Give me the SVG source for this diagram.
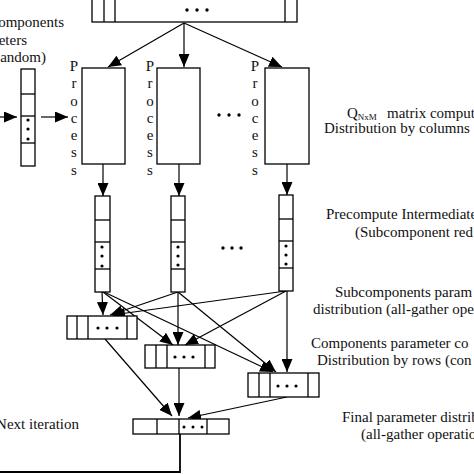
<svg xmlns="http://www.w3.org/2000/svg" width="474" height="474" viewBox="0 0 474 474">
<defs>
<marker id="ah" markerUnits="userSpaceOnUse" markerWidth="13" markerHeight="11" refX="13" refY="5.5" orient="auto">
<path d="M0,0 L13,5.5 L0,11 z" fill="#000"/>
</marker>
</defs>
<style>
.box{fill:#fff;stroke:#000;stroke-width:1.3}
.div{stroke:#000;stroke-width:1.3}
.dot{fill:#000}
.c{stroke:#000;stroke-width:1.2;fill:none}
.a{marker-end:url(#ah)}
text{font-family:"Liberation Serif","Times New Roman",serif;font-size:15px;fill:#111}
.p{font-size:15px;text-anchor:middle}
</style>
<rect width="474" height="474" fill="#fff"/>

<g id="connectors">
<line class="c a" x1="184" y1="23" x2="108" y2="67"/>
<line class="c a" x1="184" y1="23" x2="184" y2="67"/>
<line class="c a" x1="184" y1="23" x2="282" y2="67"/>
<line class="c a" x1="0" y1="117" x2="17" y2="117"/>
<line class="c a" x1="41" y1="117" x2="68" y2="117"/>
<line class="c a" x1="103" y1="164" x2="103" y2="196"/>
<line class="c a" x1="179" y1="164" x2="179" y2="196"/>
<line class="c a" x1="287" y1="164" x2="287" y2="195"/>
<line class="c a" x1="102" y1="292" x2="103" y2="315"/>
<line class="c a" x1="103" y1="292" x2="173" y2="345"/>
<line class="c a" x1="104" y1="292" x2="273" y2="372"/>
<line class="c a" x1="178" y1="292" x2="110" y2="315"/>
<line class="c a" x1="178" y1="292" x2="178" y2="345"/>
<line class="c a" x1="178" y1="292" x2="276" y2="372"/>
<line class="c a" x1="286" y1="291" x2="112" y2="315"/>
<line class="c a" x1="286" y1="291" x2="185" y2="345"/>
<line class="c a" x1="287" y1="291" x2="287" y2="372"/>
<line class="c a" x1="105" y1="339" x2="172" y2="416"/>
<line class="c a" x1="179" y1="368" x2="179" y2="416"/>
<line class="c a" x1="287" y1="397" x2="188" y2="418"/>
<polyline class="c" points="180,434 180,472 0,472" style="stroke-width:1.8"/>
</g>

<g id="top-vector">
<rect class="box" x="92" y="-5" width="205" height="27"/>
<line class="div" x1="104" y1="-5" x2="104" y2="22"/>
<line class="div" x1="115" y1="-5" x2="115" y2="22"/>
<line class="div" x1="285" y1="-5" x2="285" y2="22"/>
<circle class="dot" cx="187" cy="10" r="1.7"/>
<circle class="dot" cx="197" cy="10" r="1.7"/>
<circle class="dot" cx="207" cy="10" r="1.7"/>
</g>

<g id="left-vector">
<rect class="box" x="21" y="69" width="14" height="97"/>
<line class="div" x1="21" y1="94" x2="35" y2="94"/>
<line class="div" x1="21" y1="116" x2="35" y2="116"/>
<line class="div" x1="21" y1="143" x2="35" y2="143"/>
<circle class="dot" cx="28" cy="120" r="1.6"/>
<circle class="dot" cx="28" cy="129" r="1.6"/>
<circle class="dot" cx="28" cy="139" r="1.6"/>
</g>

<g id="left-label">
<text x="64" y="27" text-anchor="end">omponents</text>
<text x="27" y="45" text-anchor="end">eters</text>
<text x="46" y="62" text-anchor="end">andom)</text>
</g>

<g id="process1">
<rect class="box" x="82" y="68" width="43" height="96"/>
<text class="p" x="74" y="71">P</text><text class="p" x="74" y="88">r</text><text class="p" x="74" y="106">o</text><text class="p" x="74" y="123">c</text><text class="p" x="74" y="140">e</text><text class="p" x="74" y="157">s</text><text class="p" x="74" y="175">s</text>
</g>
<g id="process2">
<rect class="box" x="157" y="68" width="43" height="96"/>
<text class="p" x="150" y="71">P</text><text class="p" x="150" y="88">r</text><text class="p" x="150" y="106">o</text><text class="p" x="150" y="123">c</text><text class="p" x="150" y="140">e</text><text class="p" x="150" y="157">s</text><text class="p" x="150" y="175">s</text>
</g>
<g id="process3">
<rect class="box" x="265" y="68" width="44" height="96"/>
<text class="p" x="255" y="71">P</text><text class="p" x="255" y="88">r</text><text class="p" x="255" y="106">o</text><text class="p" x="255" y="123">c</text><text class="p" x="255" y="140">e</text><text class="p" x="255" y="157">s</text><text class="p" x="255" y="175">s</text>
</g>
<g id="process-dots">
<circle class="dot" cx="219" cy="115" r="1.7"/>
<circle class="dot" cx="229" cy="115" r="1.7"/>
<circle class="dot" cx="239" cy="115" r="1.7"/>
</g>

<g id="vector1">
<rect class="box" x="95" y="196" width="15" height="96"/>
<line class="div" x1="95" y1="220" x2="110" y2="220"/>
<line class="div" x1="95" y1="242" x2="110" y2="242"/>
<line class="div" x1="95" y1="269" x2="110" y2="269"/>
<circle class="dot" cx="102" cy="247" r="1.6"/><circle class="dot" cx="102" cy="256" r="1.6"/><circle class="dot" cx="102" cy="266" r="1.6"/>
</g>
<g id="vector2">
<rect class="box" x="171" y="196" width="14" height="96"/>
<line class="div" x1="171" y1="220" x2="185" y2="220"/>
<line class="div" x1="171" y1="242" x2="185" y2="242"/>
<line class="div" x1="171" y1="269" x2="185" y2="269"/>
<circle class="dot" cx="178" cy="247" r="1.6"/><circle class="dot" cx="178" cy="256" r="1.6"/><circle class="dot" cx="178" cy="265" r="1.6"/>
</g>
<g id="vector3">
<rect class="box" x="279" y="195" width="14" height="96"/>
<line class="div" x1="279" y1="219" x2="293" y2="219"/>
<line class="div" x1="279" y1="241" x2="293" y2="241"/>
<line class="div" x1="279" y1="268" x2="293" y2="268"/>
<circle class="dot" cx="286" cy="246" r="1.6"/><circle class="dot" cx="286" cy="255" r="1.6"/><circle class="dot" cx="286" cy="264" r="1.6"/>
</g>
<g id="vector-dots">
<circle class="dot" cx="223" cy="248" r="1.7"/>
<circle class="dot" cx="232" cy="248" r="1.7"/>
<circle class="dot" cx="241" cy="248" r="1.7"/>
</g>

<g id="row1">
<rect class="box" x="67" y="316" width="70" height="23"/>
<line class="div" x1="77" y1="316" x2="77" y2="339"/>
<line class="div" x1="88" y1="316" x2="88" y2="339"/>
<line class="div" x1="127" y1="316" x2="127" y2="339"/>
<circle class="dot" cx="98" cy="328" r="1.6"/><circle class="dot" cx="107" cy="328" r="1.6"/><circle class="dot" cx="117" cy="328" r="1.6"/>
</g>
<g id="row2">
<rect class="box" x="145" y="345" width="70" height="23"/>
<line class="div" x1="156" y1="345" x2="156" y2="368"/>
<line class="div" x1="167" y1="345" x2="167" y2="368"/>
<line class="div" x1="205" y1="345" x2="205" y2="368"/>
<circle class="dot" cx="175" cy="357" r="1.6"/><circle class="dot" cx="184" cy="357" r="1.6"/><circle class="dot" cx="193" cy="357" r="1.6"/>
</g>
<g id="row3">
<rect class="box" x="248" y="373" width="71" height="24"/>
<line class="div" x1="259" y1="373" x2="259" y2="397"/>
<line class="div" x1="270" y1="373" x2="270" y2="397"/>
<line class="div" x1="308" y1="373" x2="308" y2="397"/>
<circle class="dot" cx="278" cy="386" r="1.6"/><circle class="dot" cx="287" cy="386" r="1.6"/><circle class="dot" cx="296" cy="386" r="1.6"/>
</g>
<g id="final">
<rect class="box" x="133" y="419" width="96" height="15"/>
<line class="div" x1="157" y1="419" x2="157" y2="434"/>
<line class="div" x1="179" y1="419" x2="179" y2="434"/>
<line class="div" x1="207" y1="419" x2="207" y2="434"/>
<circle class="dot" cx="184" cy="427" r="1.5"/><circle class="dot" cx="193" cy="427" r="1.5"/><circle class="dot" cx="202" cy="427" r="1.5"/>
</g>

<g id="labels">
<text x="347" y="118">Q<tspan font-size="9" dy="2">NxM</tspan></text>
<text x="387" y="118">matrix comput</text>
<text x="324" y="133">Distribution by columns</text>
<text x="326" y="219">Precompute Intermediate</text>
<text x="355" y="237">(Subcomponent red</text>
<text x="335" y="297">Subcomponents param</text>
<text x="313" y="314">distribution (all-gather ope</text>
<text x="311" y="348">Components parameter co</text>
<text x="317" y="365">Distribution by rows (con</text>
<text x="342" y="422">Final parameter distrib</text>
<text x="361" y="439">(all-gather operatio</text>
<text x="79" y="429" text-anchor="end">Next iteration</text>
</g>
</svg>
